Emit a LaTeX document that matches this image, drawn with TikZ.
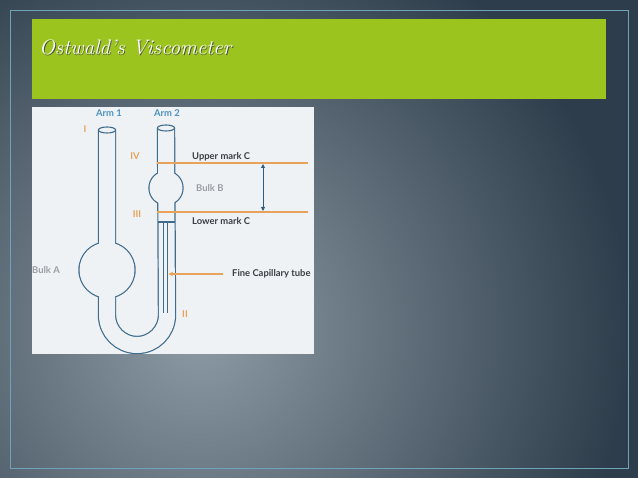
\documentclass[tikz,border=0pt]{standalone}
\usepackage{fontspec}
\newfontfamily\lato{Lato}
\usetikzlibrary{arrows.meta}
\definecolor{tube}{HTML}{3F6C8C}
\definecolor{panel}{HTML}{EEF2F4}
\definecolor{orng}{HTML}{E8A25A}
\definecolor{armblue}{HTML}{4A90C0}
\definecolor{darkarrow}{HTML}{2F5D80}
\definecolor{lblgray}{HTML}{9A9FA3}
\definecolor{lbldark}{HTML}{3A3F44}
\definecolor{bar}{HTML}{9BC41F}
\definecolor{bgdark}{HTML}{2E3D4B}
\definecolor{bglight}{HTML}{8D9BA5}
\begin{document}
\begin{tikzpicture}[x=1pt,y=-1pt,
  lbl/.style={font=\lato\bfseries\fontsize{9.4}{10}\selectfont,inner sep=0pt},
  roman/.style={lbl,text=orng},
  markline/.style={draw=orng,line width=1.4pt}]
\useasboundingbox (0,0) rectangle (638,478);
\fill[bgdark] (0,0) rectangle (638,478);
\begin{scope}
\clip (0,0) rectangle (638,478);
\shade[inner color=bglight,outer color=bgdark] (200,330) circle[radius=430];
\end{scope}
\draw[color=cyan!40!gray,line width=0.8pt] (10,10) rectangle (628,468);
\fill[bar] (32,19) rectangle (606,99);
\node[anchor=base west,inner sep=0pt,text=black!70,font=\itshape\fontsize{21}{22}\selectfont] at (39.8,55.8) {Ostwald's Viscometer};
\node[anchor=base west,inner sep=0pt,text=white,font=\itshape\fontsize{21}{22}\selectfont] (title) at (39,55) {Ostwald's Viscometer};
\fill[panel] (32,107) rectangle (314,354);
% tube outline (union technique)
\draw[tube,line width=18.4pt] (107,130) -- (107,315) arc[start angle=180,end angle=0,radius=30] -- (166,128);
\fill[tube] (107,270) circle[radius=28.7];
\fill[tube] (166,188) circle[radius=17.7];
\draw[panel,line width=16pt] (107,129) -- (107,315) arc[start angle=180,end angle=0,radius=30] -- (166,127);
\fill[panel] (107,270) circle[radius=27.5];
\fill[panel] (166,188) circle[radius=16.5];
\draw[tube,line width=1.1pt,fill=panel] (107,130) ellipse[x radius=8.6,y radius=3];
\draw[tube,line width=1.1pt,fill=panel] (166,128) ellipse[x radius=8.6,y radius=3];
% capillary
\draw[tube,line width=1.1pt] (157.5,222) -- (174.5,222);
\draw[tube,line width=1.1pt] (163.5,222) -- (163.5,313);
\draw[tube,line width=1.1pt] (167.5,222) -- (167.5,313);
% marks
\coordinate (u1) at (157,163); \coordinate (u2) at (308,163);
\coordinate (l1) at (157,212); \coordinate (l2) at (308,212);
\draw[markline] (u1) -- (u2);
\draw[markline] (l1) -- (l2);
\coordinate (au) at (263,164); \coordinate (al) at (263,211);
\draw[darkarrow,line width=1pt,{Triangle[length=4pt,width=4pt]}-{Triangle[length=4pt,width=4pt]}] (au) -- (al);
\coordinate (ct) at (223,274); \coordinate (ch) at (168.5,274);
\draw[markline,-{Triangle[length=4pt,width=4pt,fill=orng]}] (ct) -- (ch);
% labels
\node[lbl,text=armblue] (arm1) at (109,113) {Arm 1};
\node[lbl,text=armblue] (arm2) at (167,113) {Arm 2};
\node[roman] (r1) at (85,129) {I};
\node[roman] (r4) at (135,156) {IV};
\node[roman] (r3) at (137,214) {III};
\node[roman] (r2) at (185,314) {II};
\node[lbl,text=lblgray,anchor=west] (ba) at (32,270) {Bulk A};
\node[lbl,text=lblgray,anchor=west] (bb) at (196,188) {Bulk B};
\node[lbl,text=lbldark,anchor=west] (um) at (192,157) {Upper mark C};
\node[lbl,text=lbldark,anchor=west] (lm) at (192,221) {Lower mark C};
\node[lbl,text=lbldark,anchor=west] (fc) at (232,274) {Fine Capillary tube};
\end{tikzpicture}
\end{document}
